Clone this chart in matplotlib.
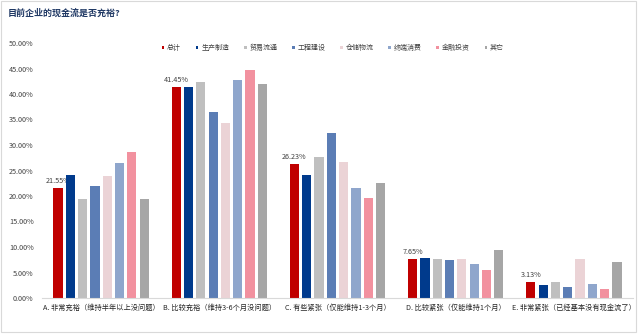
import matplotlib
matplotlib.use("Agg")
import matplotlib.pyplot as plt
import numpy as np
from matplotlib.ticker import FuncFormatter

plt.rcParams['font.family'] = ['Noto Sans CJK SC', 'DejaVu Sans']

categories = [
    "A. 非常充裕（维持半年以上没问题）",
    "B. 比较充裕（维持3-6个月没问题）",
    "C. 有些紧张（仅能维持1-3个月）",
    "D. 比较紧张（仅能维持1个月）",
    "E. 非常紧张（已经基本没有现金流了）",
]
series_names = ["总计", "生产制造", "贸易流通", "工程建设", "仓储物流", "终端消费", "金融投资", "其它"]

total        = [21.55, 41.45, 26.23, 7.65, 3.13]
manufacture  = [24.2, 41.4, 24.1, 7.9, 2.6]
trade        = [19.5, 42.3, 27.7, 7.65, 3.1]
construction = [21.9, 36.4, 32.4, 7.45, 2.2]
logistics    = [23.9, 34.4, 26.7, 7.6, 7.6]
consumer     = [26.5, 42.7, 21.6, 6.7, 2.8]
finance      = [28.7, 44.8, 19.7, 5.4, 1.8]
other        = [19.5, 42.0, 22.5, 9.35, 7.0]

series = [total, manufacture, trade, construction, logistics, consumer, finance, other]
colors = ["#C00000", "#003A8C", "#BFBFBF", "#5B7DB5", "#EBD3D6", "#8FA6CC", "#F2919F", "#A6A6A6"]

fig = plt.figure(figsize=(6.4, 3.34), dpi=100)
fig.patch.set_facecolor("white")

# thin frame around the figure
frame = plt.Rectangle((0.002, 0.006), 0.992, 0.99, transform=fig.transFigure,
                      fill=False, edgecolor="#D9D9D9", linewidth=0.8)
fig.add_artist(frame)

ax = fig.add_axes([42 / 640, 36 / 334, 591 / 640, 255 / 334])

x = np.arange(len(categories))
pitch = 0.104
bw = 0.078
for i, (vals, c, name) in enumerate(zip(series, colors, series_names)):
    pos = x + (i - 3.5) * pitch
    ax.bar(pos, [v / 100 for v in vals], width=bw, color=c, label=name, zorder=2)
    if i == 0:
        for px, v in zip(pos, vals):
            ax.text(px, v / 100 + 0.006, f"{v:.2f}%", ha="center", va="bottom",
                    fontsize=5.2, color="#404040", zorder=1)

ax.set_xlim(-0.5, len(categories) - 0.5)
ax.set_ylim(0, 0.5)
ax.set_yticks(np.arange(0, 0.501, 0.05))
ax.yaxis.set_major_formatter(FuncFormatter(lambda v, p: f"{v * 100:.2f}%"))
ax.set_xticks(x)
ax.set_xticklabels(categories, fontsize=5.2, color="#262626")
ax.tick_params(axis="both", length=0, pad=4)
ax.tick_params(axis="y", labelsize=5.2, labelcolor="#404040", pad=6)
for s in ["top", "right", "left"]:
    ax.spines[s].set_visible(False)
ax.spines["bottom"].set_color("#D9D9D9")
ax.spines["bottom"].set_linewidth(0.8)

fig.text(8 / 640, 1 - 13 / 334, "目前企业的现金流是否充裕?", fontsize=6.5, fontweight="bold",
         color="#1F3864", ha="left", va="center")

fig.legend(loc="center", bbox_to_anchor=(0.52, 1 - 48 / 334), ncol=8, frameon=False,
           fontsize=5, handlelength=0.4, handleheight=0.4, handletextpad=0.4,
           columnspacing=2.1, labelcolor="#404040")

fig.savefig("out.png", dpi=100, facecolor="white")
